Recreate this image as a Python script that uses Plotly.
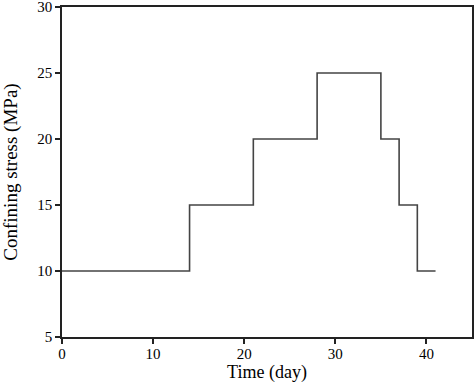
import plotly.graph_objects as go

time_day = [0, 14, 21, 28, 35, 37, 39, 41]
stress_mpa = [10, 15, 20, 25, 20, 15, 10, 10]
x_ticks = [0, 10, 20, 30, 40]
y_ticks = [5, 10, 15, 20, 25, 30]

FAM = "Liberation Serif"
font = dict(family=FAM, size=15, color="black")

fig = go.Figure(go.Scatter(x=time_day, y=stress_mpa, mode="lines",
                           line=dict(shape="hv", color="#444444", width=1.6)))

axis_common = dict(showgrid=False, zeroline=False, showline=True, linecolor="#222222",
                   linewidth=1.5, mirror=True, ticks="outside", ticklen=5,
                   tickcolor="#222222", tickwidth=1.5, tickfont=font, automargin=False,
                   ticklabeloverflow="allow")
fig.update_layout(
    width=474, height=390,
    margin=dict(l=62, r=2, t=7, b=53),
    plot_bgcolor="white", paper_bgcolor="white",
    showlegend=False,
    font=dict(family=FAM),
    xaxis=dict(range=[0, 45], tickvals=x_ticks, ticklabelstandoff=-3,
               title=dict(text="Time (day)", font=dict(family=FAM, size=18, color="black"), standoff=0),
               **axis_common),
    yaxis=dict(range=[5, 30], tickvals=y_ticks,
               title=dict(text="Confining stress (MPa)", font=dict(family=FAM, size=19, color="black"), standoff=16),
               **axis_common),
)
fig.write_html("out.html", config={"displayModeBar": False},
               post_script="document.body.style.margin='0';document.body.style.overflow='hidden';")
